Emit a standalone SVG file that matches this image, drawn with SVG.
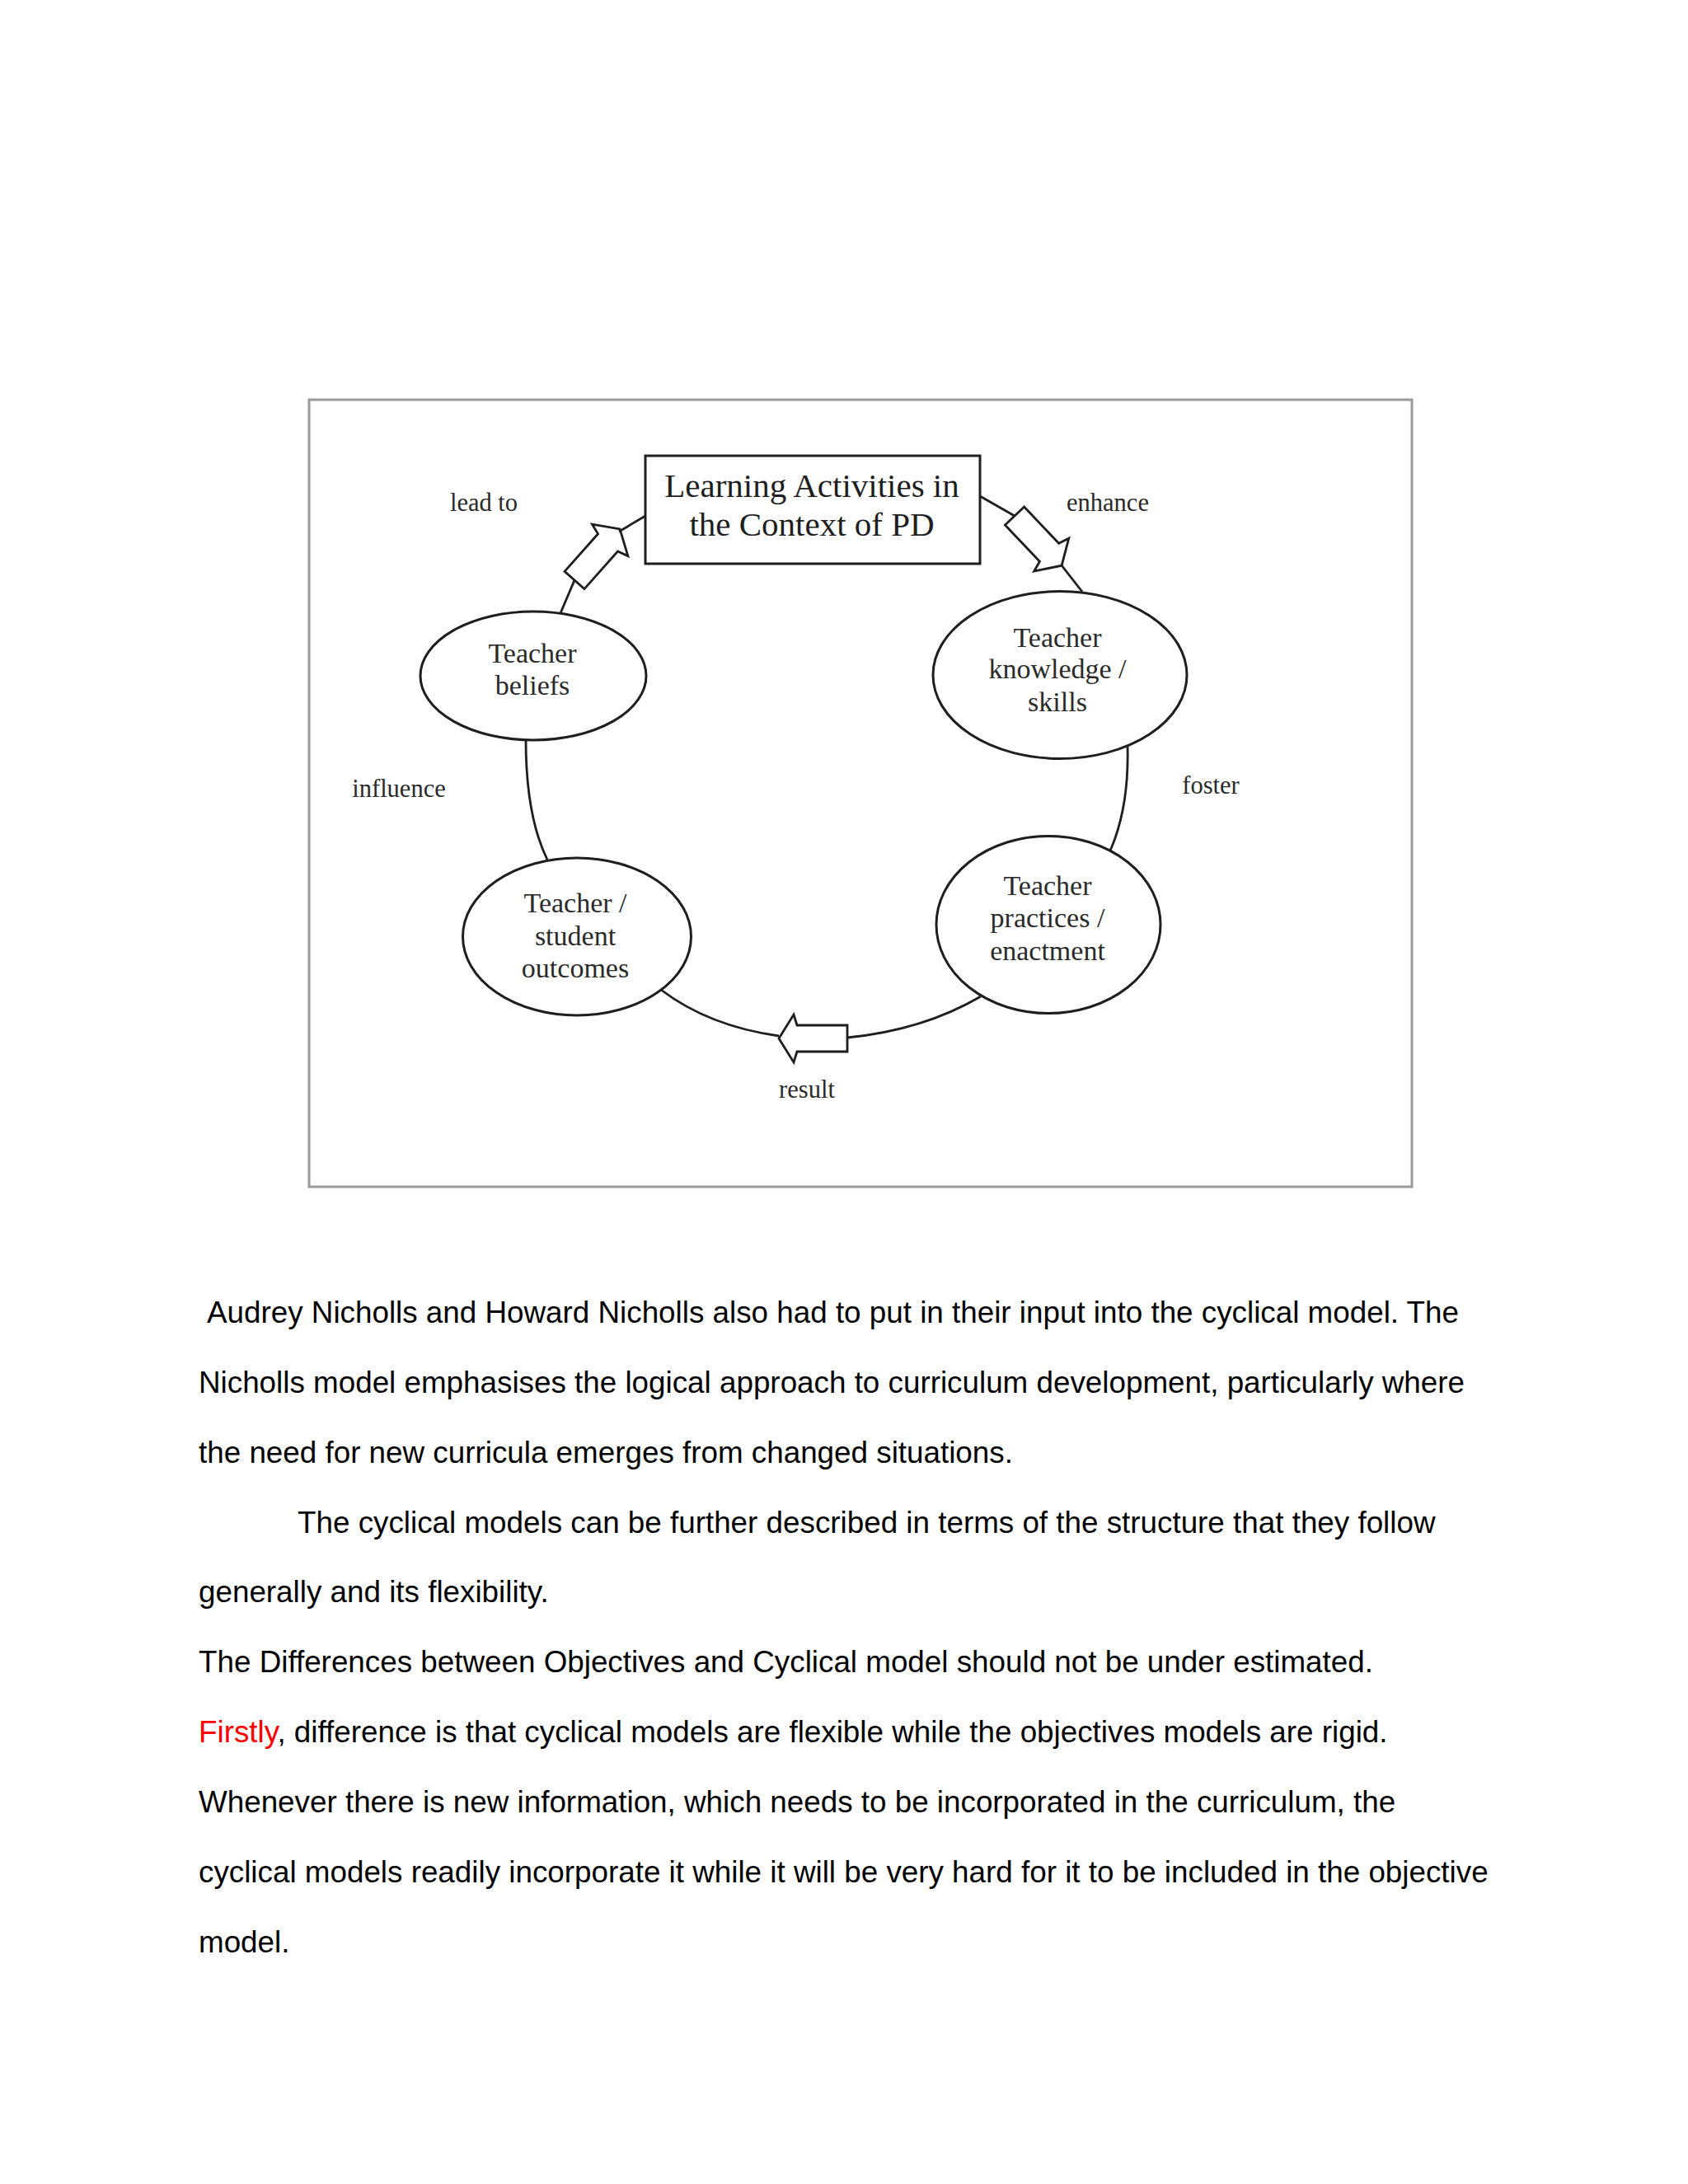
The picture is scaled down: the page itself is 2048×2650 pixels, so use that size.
<svg xmlns="http://www.w3.org/2000/svg" xmlns:xlink="http://www.w3.org/1999/xlink" width="2048" height="2650" viewBox="0 0 2048 2650">
<style>
.frame{fill:#fff;stroke:#9a9a9a;stroke-width:3}
.node{fill:#fff;stroke:#1e1e1e;stroke-width:3}
.conn{fill:none;stroke:#1e1e1e;stroke-width:2.8}
.blk{fill:#fff;stroke:#1e1e1e;stroke-width:2.8;stroke-linejoin:miter}
.dt{font-family:"Liberation Serif","Times New Roman",serif;fill:#2a2a2a;text-anchor:middle}
.nl{font-size:34px}
.cl{font-size:30.5px}
.tl{font-size:41px;fill:#1e1e1e}
.body{font-family:"Liberation Sans",Arial,sans-serif;font-size:36.8px;fill:#000}
.red{fill:#ff0000}
</style>
<defs>
<path id="blockArrow" class="blk" d="M0,-16 L61,-16 L65,-29 L83,0 L65,29 L61,16 L0,16 Z"/>
</defs>
<rect width="2048" height="2650" fill="#fff"/>
<rect class="frame" x="375" y="485" width="1338" height="955"/>

<g id="connectors">
  <path class="conn" d="M680,744 L697,704"/>
  <use xlink:href="#blockArrow" transform="translate(697,704) rotate(-48.4)"/>
  <path class="conn" d="M751,645 L783,626"/>
  <path class="conn" d="M1189,602 L1231,626"/>
  <use xlink:href="#blockArrow" transform="translate(1231,626) rotate(46.5)"/>
  <path class="conn" d="M1288,686 L1313,718"/>
  <path class="conn" d="M1368,905 Q1370,980 1347,1032"/>
  <path class="conn" d="M1190,1209 Q1120,1250 1028,1259"/>
  <use xlink:href="#blockArrow" transform="translate(1028,1260) rotate(180)"/>
  <path class="conn" d="M945,1257 Q860,1245 802,1201"/>
  <path class="conn" d="M638,898 Q638,990 664,1043"/>
  <text class="dt cl" x="587" y="620">lead to</text>
  <text class="dt cl" x="1344" y="620">enhance</text>
  <text class="dt cl" x="1469" y="963">foster</text>
  <text class="dt cl" x="979" y="1332">result</text>
  <text class="dt cl" x="484" y="967">influence</text>
</g>

<g id="node-title">
  <rect class="node" x="783" y="553" width="406" height="131"/>
  <text class="dt tl" x="985" y="603">Learning Activities in</text>
  <text class="dt tl" x="985" y="650">the Context of PD</text>
</g>

<g id="node-beliefs">
  <ellipse class="node" cx="647" cy="820" rx="137" ry="78"/>
  <text class="dt nl" x="646" y="804">Teacher</text>
  <text class="dt nl" x="646" y="843">beliefs</text>
</g>

<g id="node-knowledge">
  <ellipse class="node" cx="1286" cy="819" rx="154" ry="101.5"/>
  <text class="dt nl" x="1283" y="785">Teacher</text>
  <text class="dt nl" x="1283" y="823">knowledge /</text>
  <text class="dt nl" x="1283" y="863">skills</text>
</g>

<g id="node-practices">
  <ellipse class="node" cx="1272" cy="1122" rx="136" ry="107.5"/>
  <text class="dt nl" x="1271" y="1086">Teacher</text>
  <text class="dt nl" x="1271" y="1125">practices /</text>
  <text class="dt nl" x="1271" y="1165">enactment</text>
</g>

<g id="node-outcomes">
  <ellipse class="node" cx="700" cy="1136.5" rx="138.5" ry="95.5"/>
  <text class="dt nl" x="698" y="1107">Teacher /</text>
  <text class="dt nl" x="698" y="1147">student</text>
  <text class="dt nl" x="698" y="1186">outcomes</text>
</g>

<g id="body-text">
  <text class="body" x="251" y="1605">Audrey Nicholls and Howard Nicholls also had to put in their input into the cyclical model. The</text>
  <text class="body" x="241" y="1690">Nicholls model emphasises the logical approach to curriculum development, particularly where</text>
  <text class="body" x="241" y="1775">the need for new curricula emerges from changed situations.</text>
  <text class="body" x="361" y="1860">The cyclical models can be further described in terms of the structure that they follow</text>
  <text class="body" x="241" y="1944">generally and its flexibility.</text>
  <text class="body" x="241" y="2029">The Differences between Objectives and Cyclical model should not be under estimated.</text>
  <text class="body" x="241" y="2114"><tspan class="red">Firstly</tspan>, difference is that cyclical models are flexible while the objectives models are rigid.</text>
  <text class="body" x="241" y="2199">Whenever there is new information, which needs to be incorporated in the curriculum, the</text>
  <text class="body" x="241" y="2284">cyclical models readily incorporate it while it will be very hard for it to be included in the objective</text>
  <text class="body" x="241" y="2369">model.</text>
</g>
</svg>
